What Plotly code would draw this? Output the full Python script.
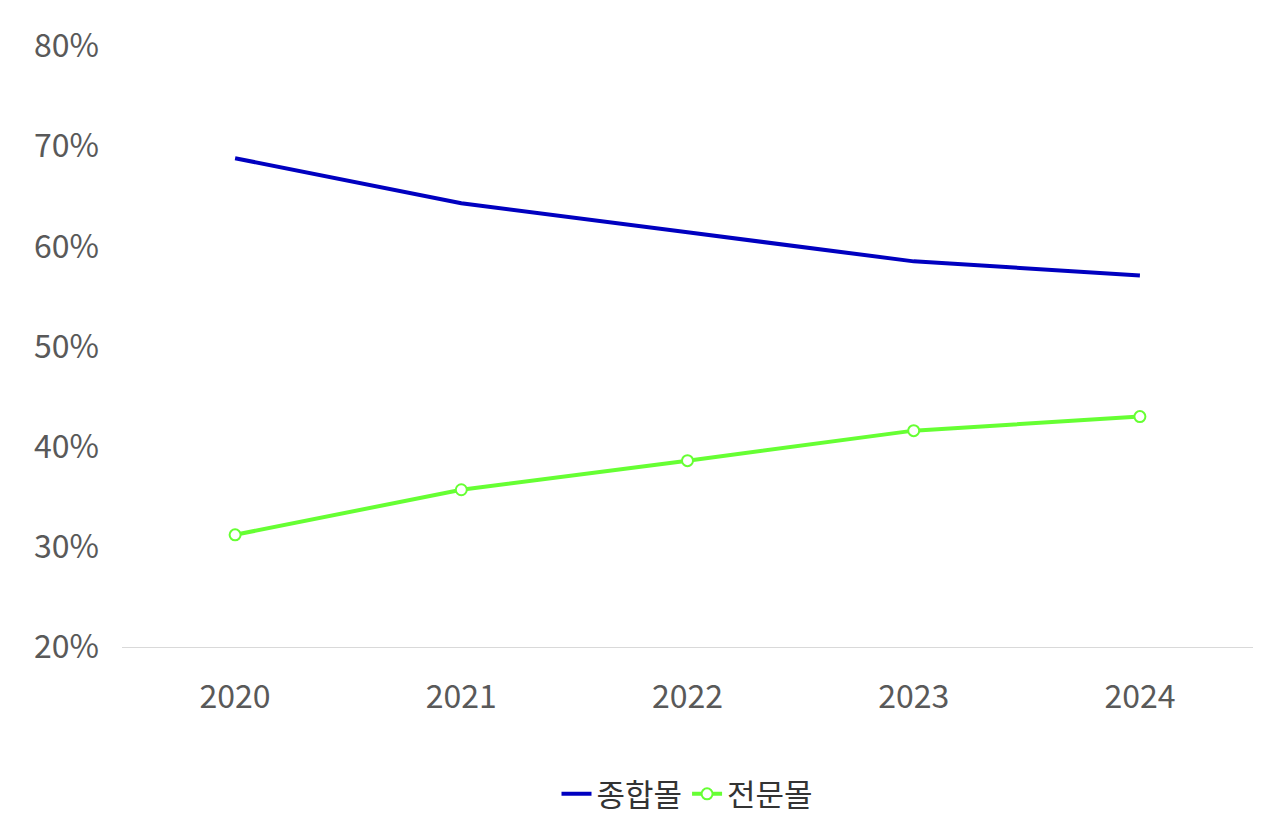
import plotly.graph_objects as go

years = ["2020", "2021", "2022", "2023", "2024"]
general_mall = [68.8, 64.3, 61.4, 58.5, 57.1]
specialty_mall = [31.2, 35.7, 38.6, 41.6, 43.0]
specialty_labels = ["31%", "36%", "39%", "42%", "43%"]

FONT = "Noto Sans CJK KR"

fig = go.Figure()
fig.add_trace(go.Scatter(
    x=years, y=general_mall, name="종합몰", mode="lines",
    line=dict(color="#0000C0", width=4),
))
fig.add_trace(go.Scatter(
    x=years, y=specialty_mall, name="전문몰", mode="lines+markers",
    line=dict(color="#66FF33", width=4),
    marker=dict(size=11, color="white", line=dict(color="#66FF33", width=2)),
))

# data labels above the specialty-mall points
for yr, val, lab in zip(years, specialty_mall, specialty_labels):
    fig.add_annotation(x=yr, y=val, text=lab, showarrow=False, yshift=45,
                       font=dict(size=32, color="#333333", family=FONT))

fig.update_layout(
    width=1280, height=833,
    margin=dict(l=114, r=35, t=29, b=194),
    plot_bgcolor="white", paper_bgcolor="white",
    font=dict(family=FONT, color="#595959", size=32),
    showlegend=True,
    legend=dict(orientation="h", x=0.5, xanchor="center", y=-0.2, yanchor="top",
                font=dict(size=31, color="#333333")),
    xaxis=dict(type="category", range=[-0.5, 4.5], showgrid=False,
               showline=True, linecolor="#D9D9D9", linewidth=1, ticks="",
               ticklabelstandoff=22),
    yaxis=dict(range=[20, 80], dtick=10, ticksuffix="%", showgrid=False,
               zeroline=False, showline=False, ticklabelstandoff=22),
)

fig.write_html("out.html")
